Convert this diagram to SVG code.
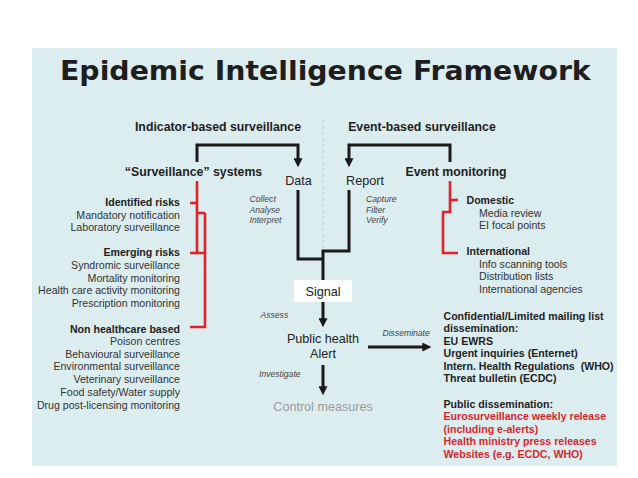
<svg xmlns="http://www.w3.org/2000/svg" width="638" height="478" viewBox="0 0 638 478">
<style>
text{font-family:"Liberation Sans",Arial,sans-serif;fill:#333}
.title{font-family:"DejaVu Sans",Verdana,sans-serif;font-weight:bold;font-size:26px;fill:#1e1e1e}
.h{font-weight:bold;font-size:12.3px;fill:#1e1e1e}
.b{font-weight:bold;font-size:10.6px;fill:#1e1e1e}
.n{font-size:10.6px}
.r{text-anchor:end}
.red{fill:#d8262c}
.it{font-style:italic;font-size:8.6px;fill:#444}
.m{font-size:12.6px;fill:#222;text-anchor:middle}
.blk{fill:none;stroke:#1a1a1a;stroke-width:3}
.rl{fill:none;stroke:#e0232b;stroke-width:2.6}
</style>
<defs>
<marker id="ah" viewBox="0 0 10 10" refX="3" refY="5" markerWidth="9" markerHeight="9" markerUnits="userSpaceOnUse" orient="auto">
<path d="M0,0 L10,5 L0,10 z" fill="#1a1a1a"/>
</marker>
</defs>
<rect width="638" height="478" fill="#ffffff"/>
<rect x="32" y="48" width="585" height="418" fill="#dcedf0"/>
<text class="title" transform="translate(60,80) scale(1.09,1)" x="0" y="0">Epidemic Intelligence Framework</text>

<g id="headings">
<text class="h" x="218" y="131" text-anchor="middle">Indicator-based surveillance</text>
<text class="h" x="422" y="131" text-anchor="middle">Event-based surveillance</text>
<line x1="323" y1="120" x2="323" y2="250" stroke="#b9cdd2" stroke-width="1" stroke-dasharray="3,3"/>
</g>

<g id="surveillance-systems">
<text class="h" x="193.5" y="176" text-anchor="middle">“Surveillance” systems</text>
</g>
<g id="event-monitoring">
<text class="h" x="456" y="176" text-anchor="middle">Event monitoring</text>
</g>

<g id="indicator-list">
<text class="b r" x="180" y="206">Identified risks</text>
<text class="n r" x="180" y="218.5">Mandatory notification</text>
<text class="n r" x="180" y="231">Laboratory surveillance</text>
<text class="b r" x="180" y="256">Emerging risks</text>
<text class="n r" x="180" y="269">Syndromic surveillance</text>
<text class="n r" x="180" y="281.5">Mortality monitoring</text>
<text class="n r" x="180" y="294">Health care activity monitoring</text>
<text class="n r" x="180" y="306.5">Prescription monitoring</text>
<text class="b r" x="180" y="332.5">Non healthcare based</text>
<text class="n r" x="180" y="345">Poison centres</text>
<text class="n r" x="180" y="357.5">Behavioural surveillance</text>
<text class="n r" x="180" y="370">Environmental surveillance</text>
<text class="n r" x="180" y="383">Veterinary surveillance</text>
<text class="n r" x="180" y="395.5">Food safety/Water supply</text>
<text class="n r" x="180" y="408.5">Drug post-licensing monitoring</text>
</g>

<g id="event-list">
<text class="b" x="466.5" y="204">Domestic</text>
<text class="n" x="479" y="216.5">Media review</text>
<text class="n" x="479" y="229">EI focal points</text>
<text class="b" x="466.5" y="255">International</text>
<text class="n" x="479" y="267.5">Info scanning tools</text>
<text class="n" x="479" y="280">Distribution lists</text>
<text class="n" x="479" y="292.5">International agencies</text>
</g>

<g id="data">
<text class="m" x="298.5" y="185">Data</text>
<text class="it" x="249.5" y="202">Collect</text>
<text class="it" x="249.5" y="212.5">Analyse</text>
<text class="it" x="249.5" y="223">Interpret</text>
</g>
<g id="report">
<text class="m" x="365" y="185">Report</text>
<text class="it" x="366" y="202">Capture</text>
<text class="it" x="366" y="212.5">Filter</text>
<text class="it" x="366" y="223">Verify</text>
</g>

<g id="signal">
<rect x="294" y="280" width="58" height="22" fill="#ffffff"/>
<text class="m" x="323" y="296">Signal</text>
</g>

<g id="alert">
<text class="m" x="323" y="343">Public health</text>
<text class="m" x="323" y="358">Alert</text>
</g>

<g id="control">
<text class="m" x="323" y="411" style="fill:#9a9a9a">Control measures</text>
</g>

<g id="dissemination">
<text class="b" x="443.5" y="319.5">Confidential/Limited mailing list</text>
<text class="b" x="443.5" y="332">dissemination:</text>
<text class="b" x="443.5" y="344.5">EU EWRS</text>
<text class="b" x="443.5" y="357">Urgent inquiries (Enternet)</text>
<text class="b" x="443.5" y="369.5" xml:space="preserve">Intern. Health Regulations  (WHO)</text>
<text class="b" x="443.5" y="382">Threat bulletin (ECDC)</text>
<text class="b" x="443.5" y="407.5">Public dissemination:</text>
<text class="b red" x="443.5" y="420">Eurosurveillance weekly release</text>
<text class="b red" x="443.5" y="432.5">(including e-alerts)</text>
<text class="b red" x="443.5" y="445">Health ministry press releases</text>
<text class="b red" x="443.5" y="457.5">Websites (e.g. ECDC, WHO)</text>
</g>

<g id="connectors">
<polyline class="blk" points="197,162 197,145 298,145 298,161" marker-end="url(#ah)"/>
<polyline class="blk" points="450,162 450,145 349,145 349,161" marker-end="url(#ah)"/>
<polyline class="blk" points="298,190 298,259 323,259"/>
<polyline class="blk" points="349,190 349,251 323,251 323,280"/>
<line class="blk" x1="323" y1="302" x2="323" y2="321" marker-end="url(#ah)"/>
<line class="blk" x1="323" y1="365" x2="323" y2="389" marker-end="url(#ah)"/>
<line class="blk" x1="368" y1="347" x2="425" y2="347" marker-end="url(#ah)"/>
<text class="it" x="260.5" y="317.5">Assess</text>
<text class="it" x="259" y="376.5">Investigate</text>
<text class="it" x="382.5" y="336">Disseminate</text>
<polyline class="rl" points="197,181 197,253"/>
<line class="rl" x1="190" y1="203" x2="197" y2="203"/>
<line class="rl" x1="197" y1="213" x2="205" y2="213"/>
<line class="rl" x1="190" y1="253" x2="205" y2="253"/>
<polyline class="rl" points="205,213 205,327 190,327"/>
<polyline class="rl" points="450,181 450,212 443,212 443,253 458,253"/>
<line class="rl" x1="450" y1="200" x2="458" y2="200"/>
</g>
</svg>
